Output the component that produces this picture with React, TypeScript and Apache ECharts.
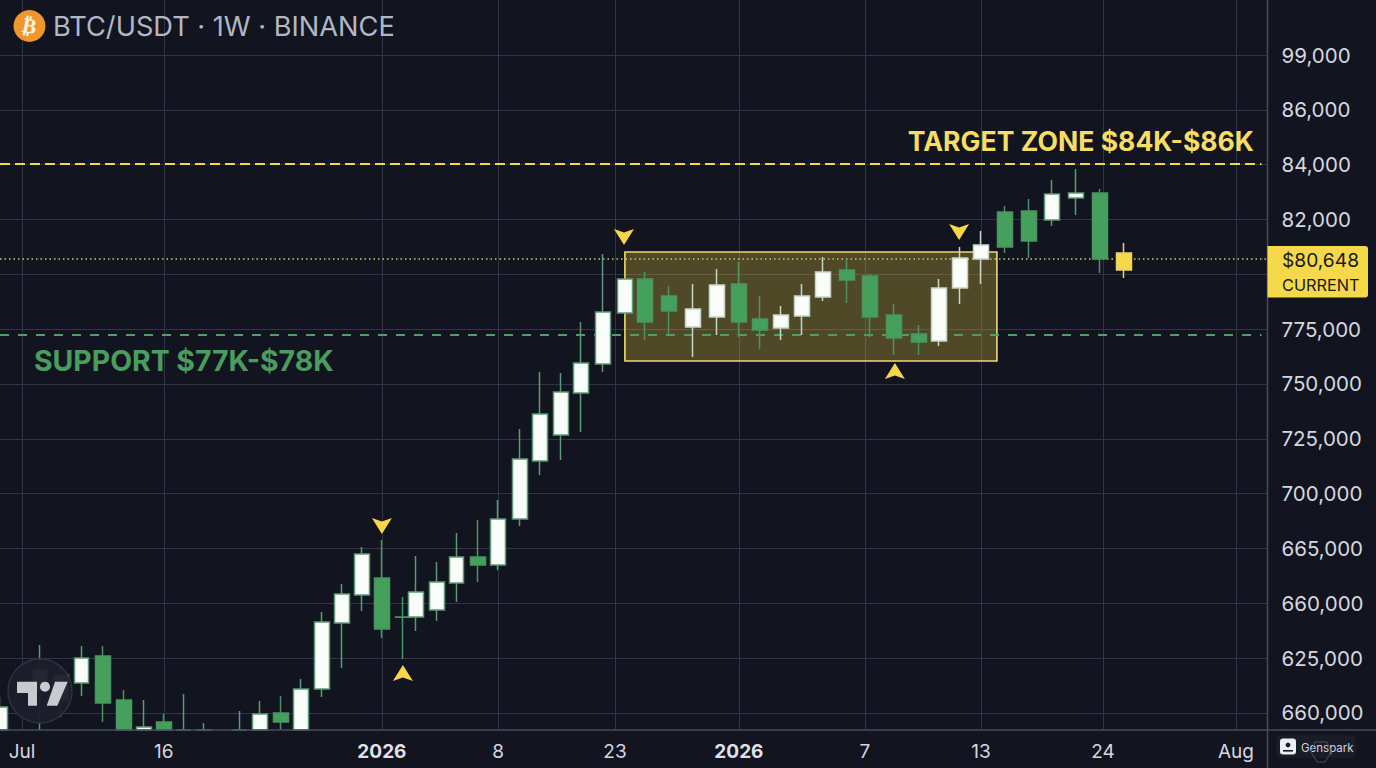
import React, { useEffect, useRef } from "react";
import * as echarts from "echarts";

const WIDTH = 1376;
const HEIGHT = 768;
const FONT = "Inter, 'Noto Sans', sans-serif";

// Position of each weekly candle on the time scale, in days.
const sessionDays = [0, 13.3, 20.3, 27.2, 34.3, 41.3, 48, 54.6, 61.2, 68, 79.9, 86.7, 93.7, 100.3, 107.3, 114, 120.7, 127.3, 134.3, 138.7, 145.6, 152.2, 159.3, 166, 173.3, 180, 187, 193.7, 201, 208.3, 215, 223, 231, 239, 246.3, 253.3, 260.3, 267.3, 274.3, 282.3, 290, 298, 306.3, 313, 320, 327, 335, 343, 350.7, 358.7, 366.7, 374.7];
const opens = [63379, 64838, 64473, 65093, 66078, 64473, 63379, 63670, 63379, 63379, 63379, 63379, 63999, 63379, 64874, 67281, 68303, 68923, 67500, 67500, 67756, 68740, 69689, 69397, 71075, 73190, 74139, 75671, 76729, 78589, 79829, 79209, 78078, 78443, 79647, 78370, 78042, 78480, 79173, 80157, 79939, 78516, 77823, 77568, 79501, 80559, 82277, 82310, 81981, 82784, 82966, 80157];
const closes = [64217, 65567, 65385, 66005, 64363, 63379, 63488, 63379, 63379, 63379, 63379, 63962, 63670, 64874, 67318, 68339, 69800, 67062, 67496, 68412, 68777, 69689, 69397, 71075, 73263, 74905, 75707, 76765, 78625, 79829, 78261, 78662, 78735, 79610, 78261, 77969, 78516, 79209, 80085, 79793, 78443, 77677, 77531, 79501, 80595, 81069, 80996, 81215, 82930, 82966, 80559, 80778];
const lows = [63379, 63379, 63853, 64619, 63670, 63379, 63379, 63379, 63379, 63379, 63379, 63379, 63379, 63379, 64582, 65640, 67719, 66734, 65968, 66990, 67354, 68047, 68777, 69215, 70820, 72680, 73227, 74248, 76437, 78589, 77604, 77787, 76986, 77787, 77713, 77276, 77604, 77787, 79027, 78954, 77713, 77057, 77057, 77385, 78917, 79647, 80778, 80595, 81762, 82164, 80048, 79866];
const highs = [64582, 66479, 65713, 66443, 66443, 64838, 64473, 63962, 64692, 63634, 64072, 64436, 64619, 65239, 67683, 68704, 70054, 70309, 68230, 69725, 69506, 70564, 71038, 71768, 74358, 76437, 76400, 78261, 80741, 79829, 80085, 79574, 79647, 80194, 80449, 79209, 78844, 79647, 80632, 80559, 80012, 78917, 78151, 79829, 80996, 81580, 82492, 82747, 83440, 83842, 83112, 81142];

// Axis ticks. The printed price labels are those of the source picture.
const priceTicks = [64000, 66000, 68000, 70000, 72000, 74000, 76000, 78000, 80000, 82000, 84000, 86000, 88000];
const priceLabels = ["660,000", "625,000", "660,000", "665,000", "700,000", "725,000", "750,000", "775,000", "", "82,000", "84,000", "86,000", "99,000"];
const timeTicks = [7.33, 54.6, 127.3, 166, 205, 246.3, 288.3, 327, 367.7, 412];
const timeLabels = ["Jul", "16", "2026", "8", "23", "2026", "7", "13", "24", "Aug"];

// Levels and annotations.
const TARGET_LEVEL = 84035;
const SUPPORT_LEVEL = 77805;
const CURRENT_LEVEL = 80560;
const zoneDays = [208.3, 332.3];
const zonePrices = [76840, 80815];
const peakMarkers = [[127.3, 70820], [208, 81361], [319.7, 81544]];
const troughMarkers = [[134.3, 65458], [298.3, 76474]];

const PRICE_MIN = 63379;
const PRICE_MAX = 90006.5;
const DAY_MAX = 422.5;
const AXIS_X = 1267.5;
const AXIS_Y = 730;

const UP_FILL = "#fbfdfb";
const DOWN_FILL = "#45a05c";
const WICK = "#5b9a72";
const ZONE_WICK = "#c3d8c4";
const YELLOW = "#f6d94a";
const GRID = "#2f3448";
const BG = "#12151f";

const candleData = sessionDays.map((day, i) => {
  const isLast = i === sessionDays.length - 1;
  const inZoneUp = closes[i] > opens[i] && day > zoneDays[0] && day < zoneDays[1];
  const item: any = { value: [day, opens[i], closes[i], lows[i], highs[i]] };
  if (isLast) {
    item.itemStyle = { color: YELLOW, color0: YELLOW, borderColor: "#e8d36a", borderColor0: "#e8d36a" };
  } else if (inZoneUp) {
    item.itemStyle = { borderColor: ZONE_WICK };
  }
  return item;
});

function hLine(value: number, color: string, type: any, width: number) {
  return {
    silent: true,
    symbol: "none",
    z: 1,
    animation: false,
    label: { show: false },
    lineStyle: { color, type, width },
    data: [[{ coord: [0, value] }, { coord: [DAY_MAX - 2, value] }]],
  };
}

function buildGraphic() {
  const txt = (text: string, x: number, y: number, size: number, fill: string, weight: any = 400, align = "left", family = FONT) => ({
    type: "text",
    silent: true,
    style: { text, x, y, fill, fontSize: size, fontWeight: weight, fontFamily: family, align, verticalAlign: "middle" },
  });
  return {
    elements: [
      { type: "line", silent: true, z: 20, shape: { x1: AXIS_X, y1: 0, x2: AXIS_X, y2: HEIGHT }, style: { stroke: "#474c5d", lineWidth: 1.5 } },
      { type: "line", silent: true, z: 20, shape: { x1: 0, y1: AXIS_Y, x2: WIDTH, y2: AXIS_Y }, style: { stroke: "#474c5d", lineWidth: 1.5 } },
      // Title
      { type: "circle", silent: true, z: 30, shape: { cx: 29.5, cy: 26, r: 16 }, style: { fill: "#f0962f" } },
      { type: "text", silent: true, z: 31, x: 29.5, y: 26, rotation: -0.2, style: { text: "₿", x: 0, y: 0, fill: "#fff4e2", fontSize: 21, fontWeight: 700, fontFamily: "'DejaVu Sans'", align: "center", verticalAlign: "middle" } },
      { ...txt("BTC/USDT · 1W · BINANCE", 53, 26, 27.2, "#b2b7c4"), z: 30 },
      // Annotations
      { ...txt("TARGET ZONE $84K-$86K", 1254, 141, 26.6, "#f6de66", 700, "right"), z: 30 },
      { ...txt("SUPPORT $77K-$78K", 34, 360, 28.4, "#4a9d5e", 700), z: 30 },
      // Current price tag
      { type: "rect", silent: true, z: 30, shape: { x: AXIS_X, y: 246, width: 100.5, height: 51.5, r: [0, 3, 3, 0] }, style: { fill: YELLOW } },
      { ...txt("$80,648", 1282, 260, 19.2, "#191a1c"), z: 31 },
      { ...txt("CURRENT", 1282, 284.5, 16.3, "#191a1c"), z: 31 },
      // TradingView mark
      { type: "circle", silent: true, z: 30, shape: { cx: 40, cy: 691, r: 32 }, style: { fill: "#1c1f2b", stroke: "#2f3340", lineWidth: 1.5, opacity: 0.96 } },
      { type: "polygon", silent: true, z: 31, shape: { points: [[17, 681.7], [37, 681.7], [37, 705.7], [28, 705.7], [28, 693], [17, 693]] }, style: { fill: "#c9cad0" } },
      { type: "circle", silent: true, z: 31, shape: { cx: 45, cy: 686.7, r: 5 }, style: { fill: "#c9cad0" } },
      { type: "polygon", silent: true, z: 31, shape: { points: [[55, 681.7], [67.7, 681.7], [57.3, 705.7], [46.7, 705.7]] }, style: { fill: "#c9cad0" } },
      // Genspark badge
      { type: "rect", silent: true, z: 30, shape: { x: 1276, y: 735, width: 80, height: 23, r: 6 }, style: { fill: "#1a1d28" } },
      { type: "rect", silent: true, z: 31, shape: { x: 1280, y: 738.5, width: 16, height: 16, r: 3 }, style: { fill: "#eceef0" } },
      { type: "rect", silent: true, z: 32, shape: { x: 1283, y: 750, width: 10, height: 1.6 }, style: { fill: "#1a1d28" } },
      { type: "circle", silent: true, z: 32, shape: { cx: 1288, cy: 745, r: 2.4 }, style: { fill: "#1a1d28" } },
      { ...txt("Genspark", 1301, 748, 11.5, "#d0d3d8"), z: 31 },
      { type: "polygon", silent: true, z: 33, shape: { points: [[1315, 742], [1327, 742], [1331, 752], [1325, 762], [1317, 762], [1311, 752]] }, style: { fill: "none", stroke: "#4a4d57", lineWidth: 1 } },
    ],
  };
}

export default function App() {
  const ref = useRef<HTMLDivElement>(null);

  useEffect(() => {
    document.body.style.margin = "0";
    document.body.style.background = BG;
    const chart = echarts.init(ref.current!, undefined, { renderer: "svg" });
    chart.setOption({
      animation: false,
      backgroundColor: BG,
      grid: { left: 0, top: 0, width: AXIS_X, height: AXIS_Y, containLabel: false },
      graphic: buildGraphic(),
      xAxis: {
        type: "value",
        min: 0,
        max: DAY_MAX,
        axisLine: { show: false },
        axisTick: { show: false, customValues: timeTicks },
        splitLine: { show: true, lineStyle: { color: GRID, width: 1 } },
        axisLabel: {
          customValues: timeTicks,
          margin: 12,
          fontFamily: FONT,
          fontSize: 19,
          color: "#d5d8e0",
          formatter: (v: number) => {
            const s = timeLabels[timeTicks.indexOf(v)] ?? "";
            return s === "2026" ? `{b|${s}}` : s;
          },
          rich: { b: { fontFamily: FONT, fontSize: 19, fontWeight: 700, color: "#dfe1e7" } },
        },
      },
      yAxis: {
        type: "value",
        position: "right",
        min: PRICE_MIN,
        max: PRICE_MAX,
        axisLine: { show: false },
        axisTick: { show: false, customValues: priceTicks },
        splitLine: { show: true, lineStyle: { color: GRID, width: 1 } },
        axisLabel: {
          customValues: priceTicks,
          margin: 14,
          fontFamily: FONT,
          fontSize: 20.5,
          color: "#d5d8e0",
          formatter: (v: number) => priceLabels[priceTicks.indexOf(v)] ?? "",
        },
      },
      series: [
        {
          type: "candlestick",
          name: "BTC/USDT",
          z: 3,
          barWidth: 15,
          itemStyle: { color: UP_FILL, color0: DOWN_FILL, borderColor: WICK, borderColor0: "#4a9463", borderWidth: 1.5 },
          data: candleData,
          markArea: {
            silent: true,
            z: 1,
            itemStyle: { color: "rgba(232,204,60,0.29)", borderColor: "#eed96f", borderWidth: 1.6 },
            data: [[{ coord: [zoneDays[0], zonePrices[1]] }, { coord: [zoneDays[1], zonePrices[0]] }]],
          },
        },
        {
          type: "line",
          name: "target",
          data: [],
          markLine: hLine(TARGET_LEVEL, "#f0d84f", [10, 5], 2),
        },
        {
          type: "line",
          name: "support",
          data: [],
          markLine: hLine(SUPPORT_LEVEL, "#4f9d67", [9, 9], 2),
        },
        {
          type: "line",
          name: "current",
          data: [],
          markLine: { ...hLine(CURRENT_LEVEL, "#d9c766", [1.5, 3], 1.5), data: [[{ coord: [0, CURRENT_LEVEL] }, { coord: [DAY_MAX, CURRENT_LEVEL] }]] },
        },
        {
          type: "scatter",
          name: "peaks",
          z: 6,
          symbol: "path://M0 0 L10 3.5 L20 0 L10 16 Z",
          symbolSize: [20, 16],
          itemStyle: { color: "#f8d648", opacity: 1 },
          data: peakMarkers,
        },
        {
          type: "scatter",
          name: "troughs",
          z: 6,
          symbol: "path://M10 0 L20 16 L10 12.5 L0 16 Z",
          symbolSize: [20, 16],
          itemStyle: { color: "#f8d648", opacity: 1 },
          data: troughMarkers,
        },
      ],
    });
    return () => chart.dispose();
  }, []);

  return <div ref={ref} style={{ width: WIDTH, height: HEIGHT }} />;
}
